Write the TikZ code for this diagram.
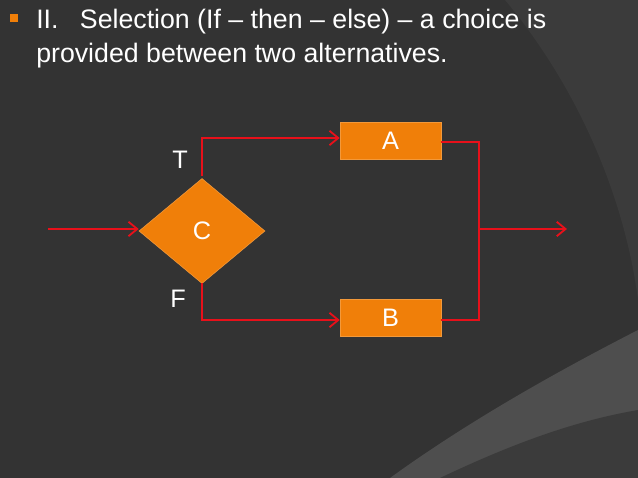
\documentclass[tikz,border=0pt]{standalone}
\usepackage{fontspec}
\setmainfont{Liberation Sans}
\usetikzlibrary{arrows.meta,shapes.geometric}
\definecolor{bg}{HTML}{333333}
\definecolor{bg2}{HTML}{3B3B3B}
\definecolor{bg3}{HTML}{4E4E4E}
\definecolor{org}{HTML}{F07F09}
\definecolor{ln}{HTML}{E8101A}
\begin{document}
\begin{tikzpicture}[x=0.025cm,y=-0.025cm,
  flow/.style={draw=ln,line width=1.3pt},
  arr/.style={flow,-{Straight Barb[length=2.2mm,width=3.6mm]}},
  box/.style={draw=org!80!white,fill=org,minimum width=101*0.025cm,minimum height=37*0.025cm,inner sep=0pt,text=white,font=\fontsize{18}{18}\selectfont},
  lbl/.style={text=white,font=\fontsize{18}{18}\selectfont}]
\fill[bg] (0,0) rectangle (638,478);
\fill[bg2] (505,0) .. controls (580,90) and (625,200) .. (638,300) -- (638,0) -- cycle;
\fill[bg3] (390,478) .. controls (470,420) and (560,370) .. (638,330) -- (638,478) -- cycle;
\fill[bg2] (440,478) .. controls (520,440) and (580,420) .. (638,410) -- (638,478) -- cycle;
\useasboundingbox (0,0) rectangle (638,478);
\fill[org] (10,14) rectangle (18,22);
\node[anchor=base west,text=white,font=\fontsize{19}{19}\selectfont,inner sep=0pt] (t1) at (36,29) {II.\hspace{0.8em}Selection (If – then – else) – a choice is};
\node[anchor=base west,text=white,font=\fontsize{19}{19}\selectfont,inner sep=0pt] (t2) at (36,63) {provided between two alternatives.};
\node[diamond,draw=org!80!white,fill=org,minimum width=126*0.025cm,minimum height=105*0.025cm,inner sep=0pt,aspect=1.2,lbl] (c) at (202,231) {C};
\node[box] (a) at (390.5,141) {A};
\node[box] (b) at (390.5,318) {B};
\node[lbl] (tl) at (180,160) {T};
\node[lbl] (fl) at (178,299) {F};
\coordinate (in) at (48,229);
\coordinate (out) at (567,229);
\coordinate (j) at (479,229);
\draw[arr] (in) -- (c.west |- in);
\draw[arr] (202,176) -- (202,138) -- (a.west |- 0,138);
\draw[arr] (202,283) -- (202,320) -- (b.west |- 0,320);
\draw[flow] (441,142) -- (479,142) -- (479,320) -- (441,320);
\draw[arr] (j) -- (out);
\end{tikzpicture}
\end{document}
